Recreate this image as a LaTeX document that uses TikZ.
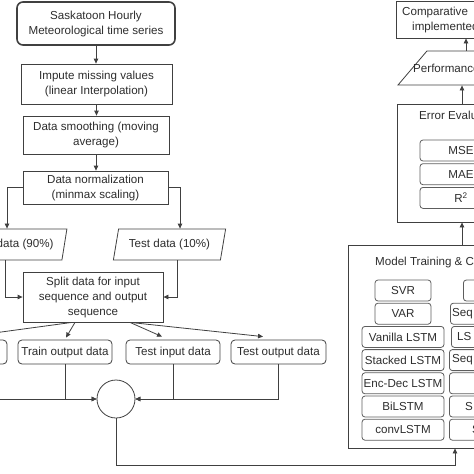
\documentclass[tikz,border=0pt]{standalone}
\usepackage{fontspec}
\setmainfont{Liberation Sans}
\usepackage{tikz}
\usetikzlibrary{positioning, arrows.meta, shapes.geometric}
\definecolor{lineColor}{RGB}{64, 64, 64}
\definecolor{textColor}{RGB}{45, 45, 45}

\begin{document}
\begin{tikzpicture}[
  x=1pt, y=-1pt,
  every node/.style={font=\fontsize{11.6pt}{15pt}\selectfont, text=textColor, inner sep=0pt, align=center},
  box/.style={draw=lineColor, line width=0.8pt, rectangle},
  rbox/.style={box, rounded corners=4pt},
  mbox/.style={draw=lineColor!85, line width=0.8pt, rounded corners=3pt, minimum height=21pt},
  para/.style={draw=lineColor, line width=0.8pt, trapezium, trapezium stretches=true,
    trapezium left angle=69, trapezium right angle=111},
  arr/.style={draw=lineColor, line width=0.8pt, -{Triangle[length=5pt, width=4.5pt]}}
]
\useasboundingbox (0,0) rectangle (474,474);
\clip (0,0) rectangle (474,474);

\node[rbox, line width=1.6pt, rounded corners=6pt, minimum width=158pt, minimum height=43pt] (src) at (96,23.5) {Saskatoon Hourly\\Meteorological time series};
\node[box, minimum width=151pt, minimum height=40pt] (impute) at (96.5,84) {Impute missing values\\(linear Interpolation)};
\node[box, minimum width=146pt, minimum height=38pt] (smooth) at (96,135) {Data smoothing (moving\\average)};
\node[box, minimum width=145pt, minimum height=33pt] (norm) at (95.5,187.5) {Data normalization\\(minmax scaling)};
\node[para, minimum width=113pt, minimum height=31pt] (trainp) at (10.5,244.5) {Train data (90\%)};
\node[para, minimum width=113pt, minimum height=31pt] (testp) at (169.5,244.5) {Test data (10\%)};
\node[box, minimum width=140pt, minimum height=50pt] (split) at (93,297) {Split data for input\\sequence and output\\sequence};
\node[rbox, minimum width=94pt, minimum height=24pt] (trin) at (-40,352) {Train input data};
\node[rbox, minimum width=94pt, minimum height=24pt] (trout) at (65,352) {Train output data};
\node[rbox, minimum width=94pt, minimum height=24pt] (tein) at (173,352) {Test input data};
\node[rbox, minimum width=95pt, minimum height=24pt] (teout) at (278.5,352) {Test output data};
\node[circle, draw=lineColor, line width=0.8pt, minimum size=38pt] (merge) at (116,399) {};

\node[box, minimum width=228pt, minimum height=203pt] (model) at (462,346.5) {};
\node[anchor=west] (mtitle) at (375,262) {Model Training \& C};
\foreach \name/\w [count=\i from 0] in {SVR/56pt, VAR/56pt, Vanilla LSTM/82pt, Stacked LSTM/82pt, Enc-Dec LSTM/82pt, BiLSTM/82pt, convLSTM/82pt}
  \node[mbox, minimum width=\w] (l\i) at (403,290.5+23.2*\i) {\name};
\foreach \name/\x/\dx [count=\i from 0] in {/463/0pt, Seq/450/2pt, LS/451/6pt, Seq/449/3pt, /449/0pt, S/449/16pt, S/449/23pt}
  \node[mbox, anchor=west, minimum width=100pt, label={[anchor=west, xshift=\dx]west:\name}] (r\i) at (\x,290.5+23.2*\i) {};

\node[box, minimum width=130pt, minimum height=118pt] (err) at (462,163) {};
\node[anchor=west] (etitle) at (419,115) {Error Evaluation};
\foreach \name [count=\i from 0] in {MSE, MAE, R\textsuperscript{2}}
  \node[mbox, minimum width=82pt] (e\i) at (461,150.5+23.7*\i) {\name};

\node[para, inner sep=2pt, trapezium left angle=67.6, trapezium right angle=112.4, minimum width=128pt, minimum height=34pt] (perf) at (462,68) {};
\node[anchor=west] (ptext) at (413,68) {Performance};
\node[box, minimum width=140pt, minimum height=37pt] (comp) at (466,19.5) {};
\node[anchor=west, align=left] (ctext) at (402,20) {Comparative\\\hspace*{10pt}implemented};

\draw[arr] (src.south) -- (src.south |- impute.north);
\draw[arr] (impute.south) -- (impute.south |- smooth.north);
\draw[arr] (smooth.south) -- (smooth.south |- norm.north);
\draw[arr] (norm.west) -| ([xshift=-3.5pt]trainp.north);
\draw[arr] (norm.east) -| ([xshift=10.5pt]testp.north);
\draw[arr] ([xshift=-5.5pt]trainp.south) |- (split.west);
\draw[arr] ([xshift=7.5pt]testp.south) |- (split.east);
\draw[arr] ([xshift=-21pt]split.south) -- ([yshift=2pt]trin.north);
\draw[arr] ([xshift=-18pt]split.south) -- ([xshift=1pt, yshift=2pt]trout.north);
\draw[arr] ([xshift=37pt]split.south) -- ([xshift=-11pt, yshift=3pt]tein.north);
\draw[arr] ([xshift=37pt]split.south) -- ([xshift=-15.5pt, yshift=3pt]teout.north);
\draw[arr] (trin.south) |- (merge.west);
\draw[arr] (trout.south) |- (merge.west);
\draw[arr] (tein.south) |- (merge.east);
\draw[arr] (teout.south) |- (merge.east);
\draw[arr] (merge.south) -- ++(0,47) -| ([xshift=-7pt]model.south);
\draw[arr] (model.north) -- (err.south);
\draw[arr] (err.north) -- (err.north |- perf.south);
\draw[arr] (perf.north -| comp.south) -- (comp.south);
\end{tikzpicture}
\end{document}
